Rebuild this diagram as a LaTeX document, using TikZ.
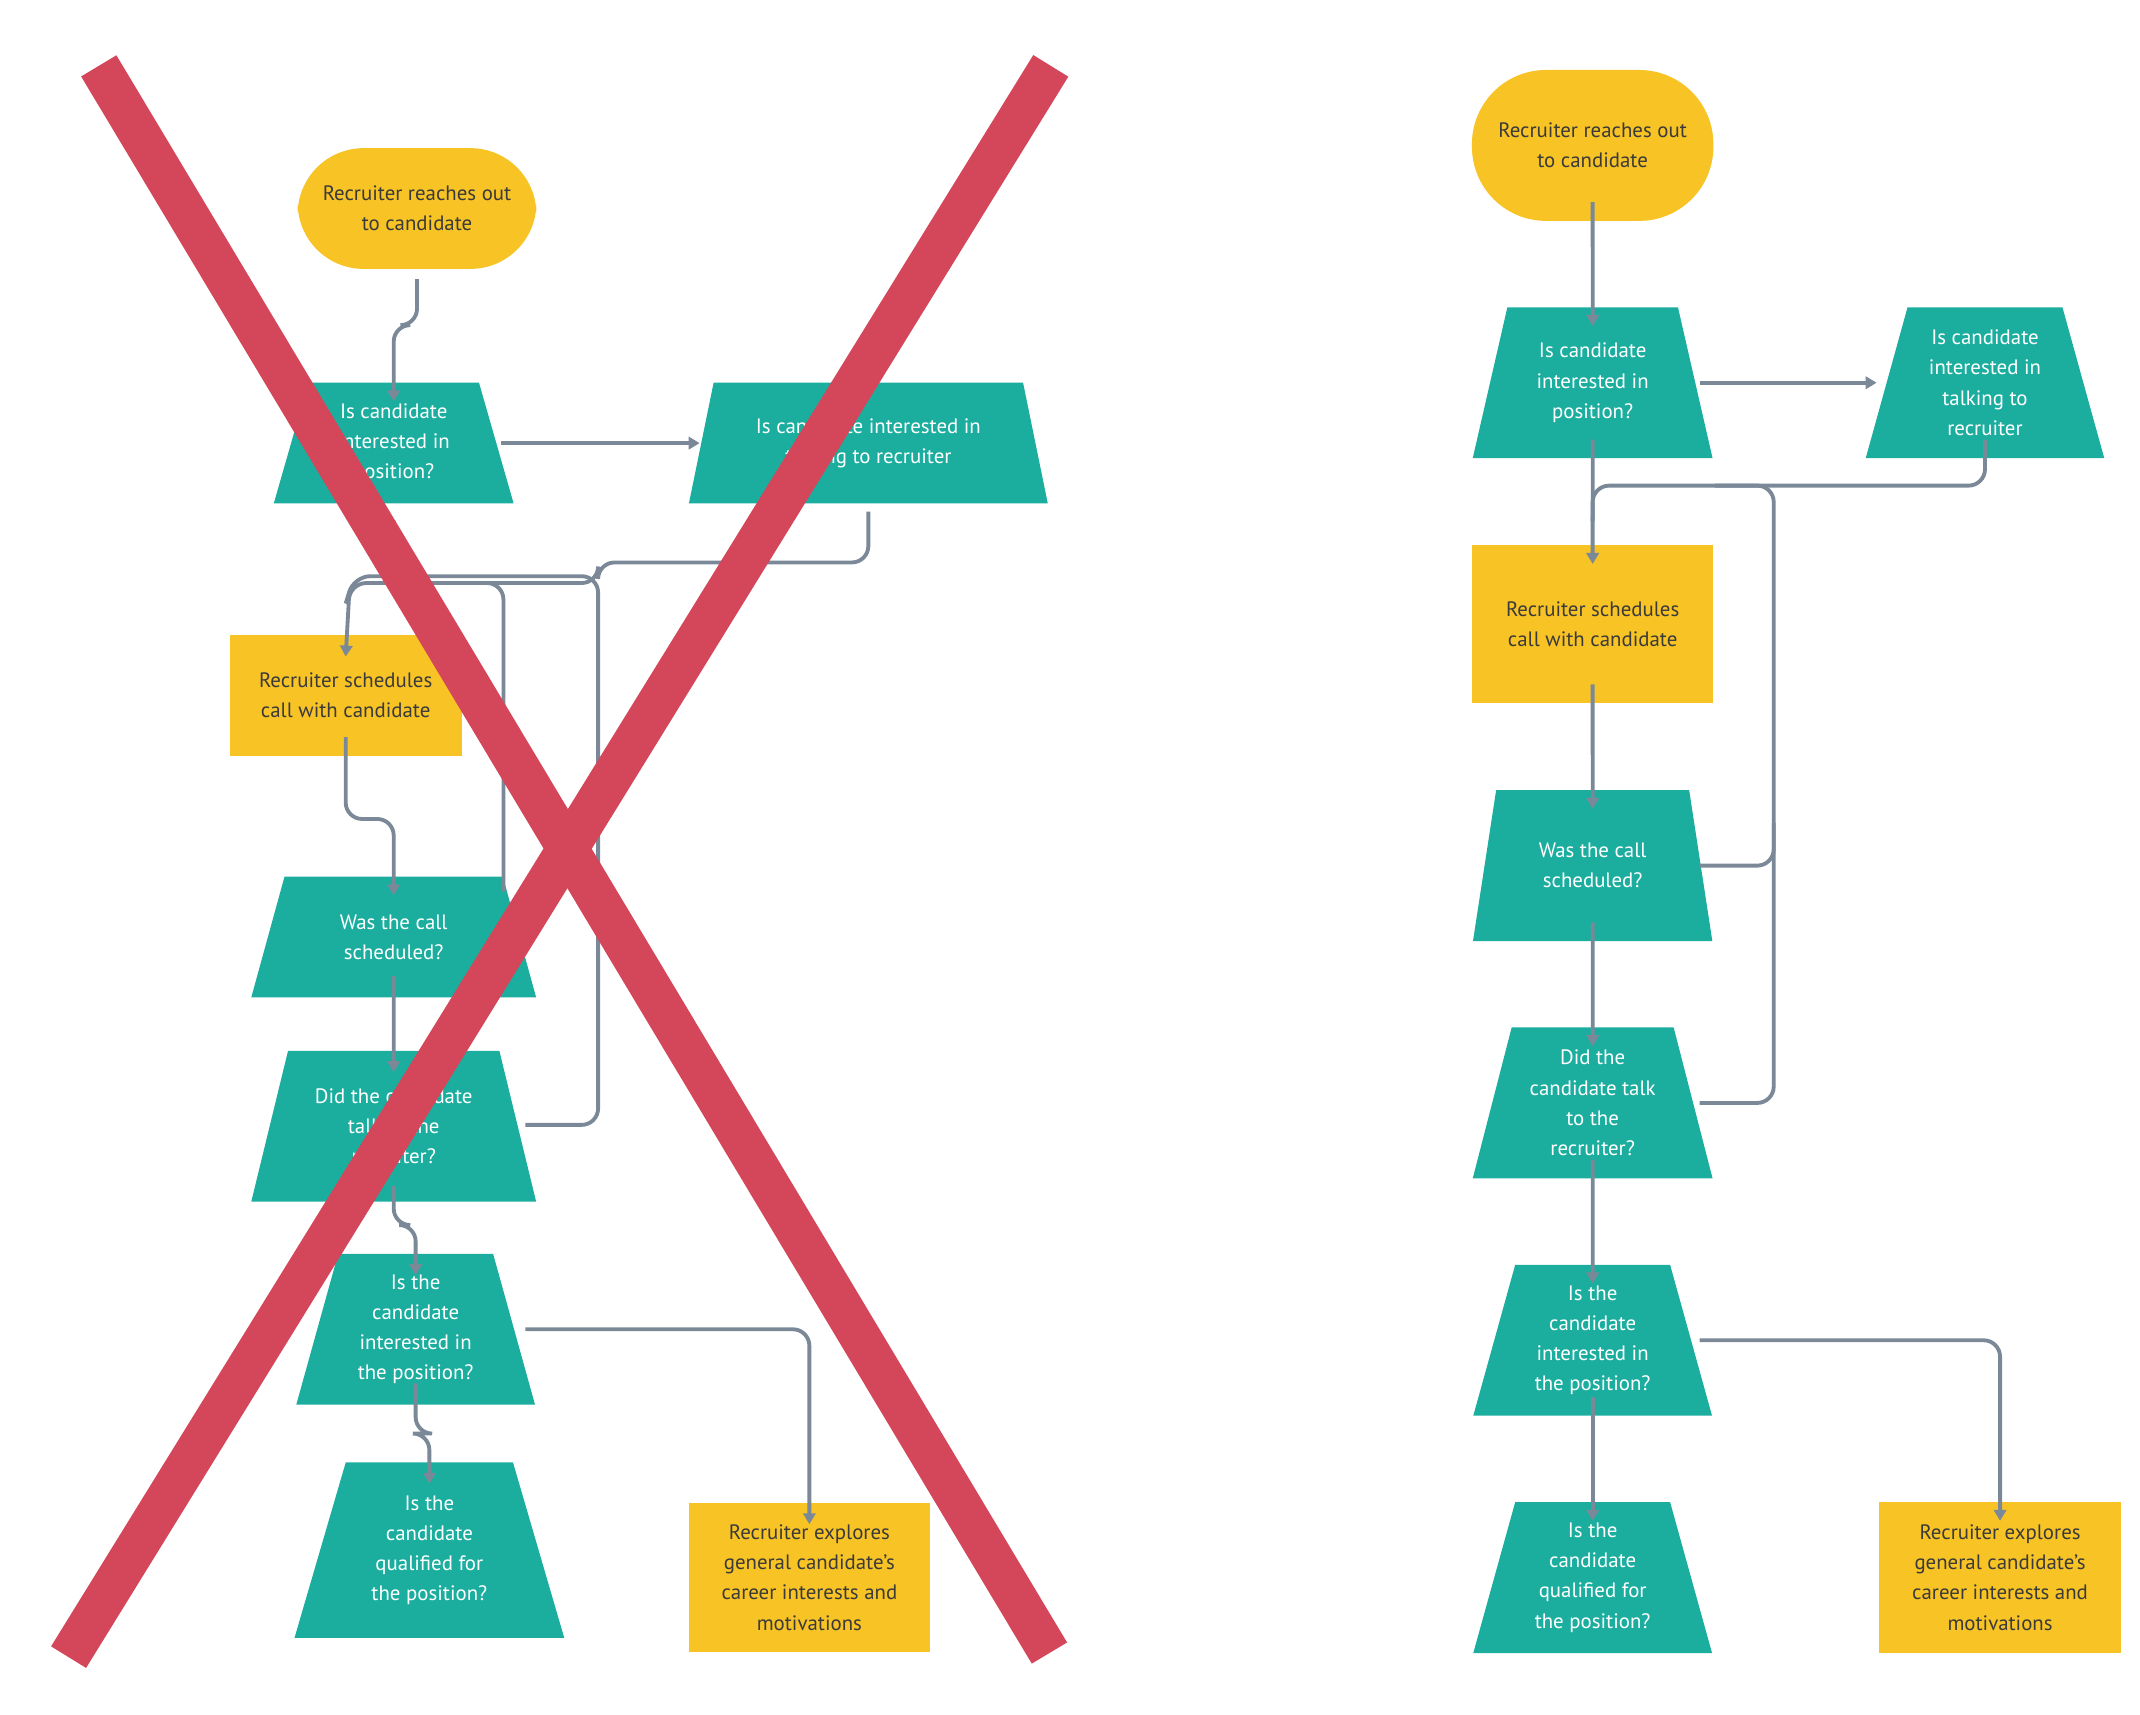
\documentclass[tikz,border=0pt]{standalone}
\usepackage{fontspec}
\setmainfont{PT Sans}
\usetikzlibrary{shapes.geometric,arrows.meta}
\definecolor{teal}{HTML}{1BAE9F}
\definecolor{yel}{HTML}{F7C325}
\definecolor{ln}{HTML}{7A8898}
\definecolor{xred}{HTML}{D4465A}
\definecolor{dk}{HTML}{3A3A3A}
\begin{document}
\begin{tikzpicture}[x=0.5pt,y=-0.5pt,
  txt/.style={font=\fontsize{7.6}{11}\selectfont,align=center,inner sep=0pt},
  term/.style={txt,fill=yel,text=dk,rounded corners=24pt,minimum width=87pt,minimum height=44pt},
  proc/.style={txt,fill=yel,text=dk,minimum width=88pt,minimum height=44pt},
  dec/.style={txt,trapezium,trapezium stretches=true,fill=teal,text=white,minimum width=87.5pt,minimum height=55pt,trapezium angle=74},
  con/.style={draw=ln,line width=1.4pt,rounded corners=6pt},
  arr/.style={con,-{Triangle[length=4pt,width=4.5pt]}},
  xline/.style={draw=xred,line width=15pt}]
\useasboundingbox (0,0) rectangle (1560,1250);
% ---------- left ----------
\node[term,minimum height=44pt] (ls) at (304,152) {Recruiter reaches out\\to candidate};
\node[dec,minimum height=44pt] (lq1) at (287,323) {Is candidate\\interested in\\position?};
\node[dec,minimum width=131pt,minimum height=44pt,trapezium angle=70] (lq2) at (633,323) {Is candidate interested in\\talking to recruiter};
\node[proc,minimum width=84.5pt] (lsc) at (252,507) {Recruiter schedules\\call with candidate};
\node[dec,minimum width=104pt,minimum height=44pt,trapezium angle=70] (lw) at (287,683) {Was the call\\scheduled?};
\node[dec,minimum width=104pt,trapezium angle=70] (ld) at (287,821) {Did the candidate\\talk to the\\recruiter?};
\node[dec] (li) at (303,969) {Is the\\candidate\\interested in\\the position?};
\node[dec,minimum width=99pt,minimum height=64pt,trapezium angle=72] (lqu) at (313,1130) {Is the\\candidate\\qualified for\\the position?};
\node[proc,minimum height=54.5pt] (le) at (590,1150) {Recruiter explores\\general candidate's\\career interests and\\motivations};
\draw[arr] (ls.south)++(0,7) -- (304,237) -- (287,237) -- ([yshift=-7]lq1.north);
\draw[arr] (365,323) -- (510,323);
\draw[con] ([yshift=-6]lq1.south) -- (287,388);
\draw[arr] (633,373) -- (633,410) -- (436,410) -- (436,425) -- (255,425) -- ([yshift=-8]lsc.north -| 252,0);
\draw[con] (383,820) -- (436,820) -- (436,420) -- (258,420) -- (252,440);
\draw[con] (367,650) -- (367,425) -- (300,425);
\draw[arr] ([yshift=7]lsc.south) -- (252,597) -- (287,597) -- ([yshift=-7]lw.north);
\draw[arr] ([yshift=8]lw.south) -- ([yshift=-8]ld.north);
\draw[arr] ([yshift=6]ld.south) -- (287,893) -- (303,893) -- ([yshift=-8]li.north);
\draw[arr] (383,969) -- (590,969) -- ([yshift=-8]le.north);
\draw[arr] ([yshift=8]li.south) -- (303,1045) -- (313,1045) -- ([yshift=-8]lqu.north);
% ---------- right ----------
\node[term,minimum width=88pt,minimum height=55pt,rounded corners=27pt] (rs) at (1161,106) {Recruiter reaches out\\to candidate};
\node[dec] (rq1) at (1161,279) {Is candidate\\interested in\\position?};
\node[dec] (rq2) at (1447,279) {Is candidate\\interested in\\talking to\\recruiter};
\node[proc,minimum height=57.5pt] (rsc) at (1161,455) {Recruiter schedules\\call with candidate};
\node[dec] (rw) at (1161,631) {Was the call\\scheduled?};
\node[dec] (rd) at (1161,804) {Did the\\candidate talk\\to the\\recruiter?};
\node[dec] (ri) at (1161,977) {Is the\\candidate\\interested in\\the position?};
\node[dec] (rqu) at (1161,1150) {Is the\\candidate\\qualified for\\the position?};
\node[proc,minimum height=55pt] (re) at (1458,1150) {Recruiter explores\\general candidate's\\career interests and\\motivations};
\draw[arr] ([yshift=7]rs.south) -- ([yshift=-7]rq1.north);
\draw[arr] (1239,279) -- (1368,279);
\draw[arr] ([yshift=7]rq1.south) -- ([yshift=-7]rsc.north);
\draw[con] ([yshift=7]rq2.south) -- (1447,354) -- (1161,354) -- (1161,380);
\draw[con] (1239,631) -- (1293,631) -- (1293,354) -- (1250,354);
\draw[con] (1239,804) -- (1293,804) -- (1293,600);
\draw[arr] ([yshift=7]rsc.south) -- ([yshift=-7]rw.north);
\draw[arr] ([yshift=7]rw.south) -- ([yshift=-7]rd.north);
\draw[arr] ([yshift=7]rd.south) -- ([yshift=-7]ri.north);
\draw[arr] ([yshift=7]ri.south) -- ([yshift=-7]rqu.north);
\draw[arr] (1239,977) -- (1458,977) -- ([yshift=-7]re.north);
% ---------- red X ----------
\draw[xline] (72,48) -- (765,1205);
\draw[xline] (766,48) -- (50,1208);
\end{tikzpicture}
\end{document}
